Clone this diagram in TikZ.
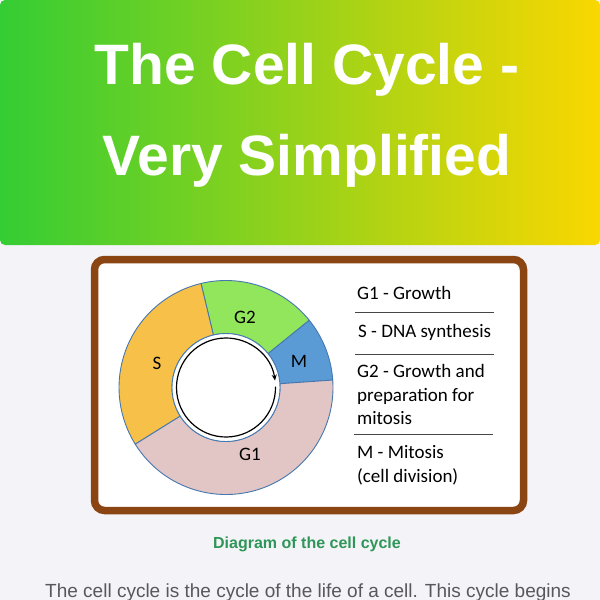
\documentclass[tikz,border=0pt]{standalone}
\usepackage{fontspec}
\setmainfont{Liberation Sans}
\newfontfamily\carlito{Carlito}
\usetikzlibrary{arrows.meta}
\definecolor{bgcol}{RGB}{244,244,248}
\definecolor{gradL}{RGB}{52,205,52}
\definecolor{gradR}{RGB}{250,215,0}
\definecolor{framebrown}{RGB}{139,69,19}
\definecolor{ringline}{RGB}{70,120,175}
\definecolor{colM}{RGB}{91,155,213}
\definecolor{colG2}{RGB}{146,230,92}
\definecolor{colS}{RGB}{247,192,72}
\definecolor{colG1}{RGB}{226,197,197}
\definecolor{capgreen}{RGB}{46,150,88}
\definecolor{bodygray}{RGB}{88,88,92}
\definecolor{sepgray}{RGB}{70,70,70}
\tikzset{
  titletext/.style={text=white, font=\bfseries\fontsize{57}{68}\selectfont, inner sep=0pt, anchor=base},
  seglabel/.style={font=\carlito\fontsize{19}{22}\selectfont, inner sep=0pt, text=black},
  legtext/.style={font=\carlito\fontsize{19}{22}\selectfont, inner sep=0pt, anchor=base west, text=black},
  seg/.style={draw=ringline, line width=0.9pt},
  sepline/.style={draw=sepgray, line width=0.8pt},
  framebox/.style={draw=framebrown, line width=7.5pt, fill=white, rounded corners=10pt, minimum width=429pt, minimum height=251pt, inner sep=0pt},
}
\begin{document}
\begin{tikzpicture}[x=1pt,y=-1pt]
\clip (0,0) rectangle (600,600);
\fill[bgcol] (0,0) rectangle (600,600);
\shade[left color=gradL, right color=gradR, rounded corners=5pt] (0,0) rectangle (600,245);
\node[titletext] (t1) at (307,84) {The Cell Cycle -};
\node[titletext] (t2) at (307,175) {Very Simplified};

\node[framebox] (frame) at (309,385) {};

\begin{scope}[shift={(226,387.5)}, yscale=-1]
  \def\Ro{107}\def\Ri{54}
  \filldraw[seg, fill=colM]  (4:\Ro) arc[start angle=4, end angle=39, radius=\Ro] -- (39:\Ri) arc[start angle=39, end angle=4, radius=\Ri] -- cycle;
  \filldraw[seg, fill=colG2] (39:\Ro) arc[start angle=39, end angle=103.5, radius=\Ro] -- (103.5:\Ri) arc[start angle=103.5, end angle=39, radius=\Ri] -- cycle;
  \filldraw[seg, fill=colS]  (103.5:\Ro) arc[start angle=103.5, end angle=212, radius=\Ro] -- (212:\Ri) arc[start angle=212, end angle=103.5, radius=\Ri] -- cycle;
  \filldraw[seg, fill=colG1] (212:\Ro) arc[start angle=212, end angle=364, radius=\Ro] -- (4:\Ri) arc[start angle=4, end angle=-148, radius=\Ri] -- cycle;
  \filldraw[seg, fill=white] (0,0) circle[radius=\Ri];
  \draw[line width=1.2pt, -{Stealth[length=6pt, width=5pt]}] (1:49.5) arc[start angle=1, end angle=-352, radius=49.5];
\end{scope}

\node[seglabel] (lG2) at (245,317) {G2};
\node[seglabel] (lS) at (157,363) {S};
\node[seglabel] (lM) at (299,361) {M};
\node[seglabel] (lG1) at (250,454) {G1};

\node[legtext] (a1) at (357,299) {G1 - Growth};
\node[legtext] (a2) at (358,337) {S - DNA synthesis};
\node[legtext] (a3) at (357,377) {G2 - Growth and};
\node[legtext] (a4) at (357,401) {preparation for};
\node[legtext] (a5) at (357,424) {mitosis};
\node[legtext] (a6) at (357,458) {M - Mitosis};
\node[legtext] (a7) at (357,482) {(cell division)};

\coordinate (s1a) at (355,312); \coordinate (s1b) at (494,312);
\coordinate (s2a) at (355,354); \coordinate (s2b) at (494,354);
\coordinate (s3a) at (354,434); \coordinate (s3b) at (493,434);
\draw[sepline] (s1a) -- (s1b);
\draw[sepline] (s2a) -- (s2b);
\draw[sepline] (s3a) -- (s3b);

\node[font=\bfseries\fontsize{16}{18}\selectfont, text=capgreen, anchor=base, inner sep=0pt] (cap) at (307,548) {Diagram of the cell cycle};
\node[font=\fontsize{19}{22}\selectfont, text=bodygray, anchor=base, inner sep=0pt] (body) at (308,597) {The cell cycle is the cycle of the life of a cell. This cycle begins};
\end{tikzpicture}
\end{document}
